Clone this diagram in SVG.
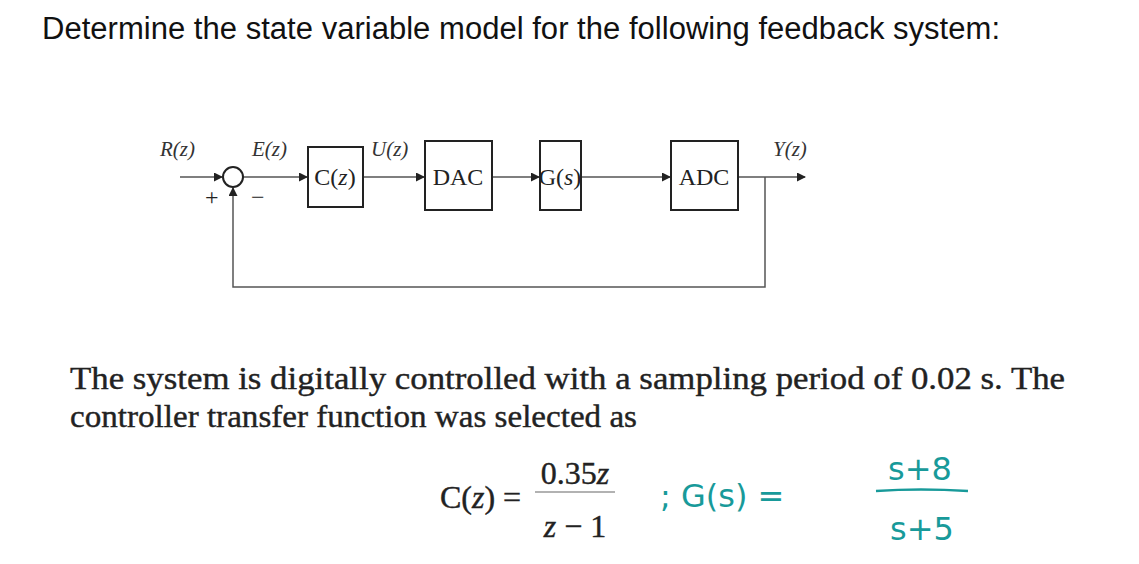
<svg xmlns="http://www.w3.org/2000/svg" width="1139" height="564" viewBox="0 0 1139 564">
<style>
.blk{fill:#fff;stroke:#222;stroke-width:2}
.ln{fill:none;stroke:#555;stroke-width:1.5}
.bt{font-family:"Liberation Serif",serif;font-size:24px;fill:#222}
.lb{font-family:"Liberation Serif",serif;font-style:italic;font-size:21px;fill:#333}
.tx{font-family:"Liberation Serif",serif;font-size:32px;fill:#222;stroke:#222;stroke-width:0.4}
.hw{font-family:"DejaVu Sans",sans-serif;font-size:32px;fill:#189a9a}
</style>
<defs><marker id="a" markerWidth="9" markerHeight="9" refX="8" refY="4.5" orient="auto" markerUnits="userSpaceOnUse"><path d="M0,0L9,4.5L0,9z" fill="#222"/></marker></defs>
<rect width="1139" height="564" fill="#fff"/>
<text x="42" y="39" font-family="Liberation Sans,sans-serif" font-size="31" fill="#111" textLength="958">Determine the state variable model for the following feedback system:</text>
<g id="connectors">
<path class="ln" d="M180,177H222" marker-end="url(#a)"/>
<path class="ln" d="M243,177H307" marker-end="url(#a)"/>
<path class="ln" d="M363,177H424" marker-end="url(#a)"/>
<path class="ln" d="M492,177H539" marker-end="url(#a)"/>
<path class="ln" d="M581,177H670" marker-end="url(#a)"/>
<path class="ln" d="M738,177H805" marker-end="url(#a)"/>
<path class="ln" d="M765,177V287H233V188" marker-end="url(#a)"/>
</g>
<g id="sum"><circle cx="233" cy="177" r="10" class="blk" stroke-width="1.5"/><text x="205" y="205" class="bt" font-size="20">+</text><text x="251" y="205" class="bt" font-size="20">−</text></g>
<g id="C"><rect x="308" y="147" width="55" height="60" class="blk"/><text x="335" y="185" class="bt" text-anchor="middle">C(<tspan font-style="italic">z</tspan>)</text></g>
<g id="DAC"><rect x="425" y="141" width="67" height="69" class="blk"/><text x="458" y="185" class="bt" text-anchor="middle">DAC</text></g>
<g id="G"><rect x="540" y="141" width="41" height="69" class="blk"/><text x="560" y="185" class="bt" text-anchor="middle" font-size="20">G(<tspan font-style="italic">s</tspan>)</text></g>
<g id="ADC"><rect x="671" y="141" width="67" height="69" class="blk"/><text x="704" y="185" class="bt" text-anchor="middle">ADC</text></g>
<text x="160" y="156" class="lb">R(z)</text>
<text x="252" y="156" class="lb">E(z)</text>
<text x="371" y="156" class="lb">U(z)</text>
<text x="773" y="156" class="lb">Y(z)</text>
<text x="70" y="389" class="tx" textLength="995" lengthAdjust="spacingAndGlyphs">The system is digitally controlled with a sampling period of 0.02 s. The</text>
<text x="70" y="427" class="tx" textLength="567" lengthAdjust="spacingAndGlyphs">controller transfer function was selected as</text>
<text x="440" y="508" class="tx" font-size="29">C(<tspan font-style="italic">z</tspan>) =</text>
<text x="575" y="484" class="tx" font-size="29" text-anchor="middle">0.35<tspan font-style="italic">z</tspan></text>
<path d="M535,492H615" stroke="#999" stroke-width="1.5"/>
<text x="575" y="537" class="tx" font-size="29" text-anchor="middle"><tspan font-style="italic">z</tspan> − 1</text>
<text x="660" y="507" class="hw">; G(s) =</text>
<text x="920" y="480" class="hw" text-anchor="middle">s+8</text>
<path d="M876,491Q920,488 968,491" stroke="#189a9a" stroke-width="2.5" fill="none"/>
<text x="922" y="540" class="hw" text-anchor="middle">s+5</text>
</svg>
